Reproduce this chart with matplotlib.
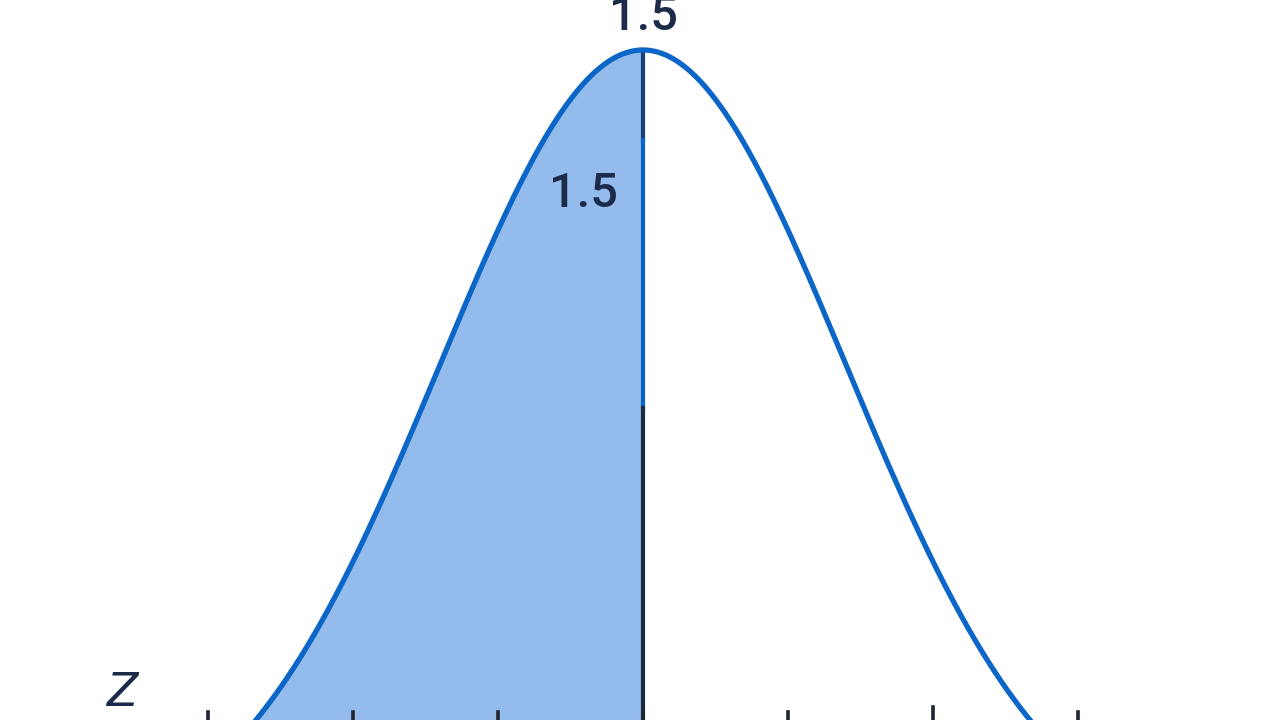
import matplotlib.pyplot as plt
import numpy as np

# bell curve (normal density), x in tick units
mu = 0.0
sigma = 1.4
z_ticks = [-3, -2, -1, 0, 1, 2, 3]
tall_tick = 2
peak_label = '1.5'
inner_label = '1.5'
axis_label = 'Z'

x = np.linspace(-4.6, 4.6, 800)
pdf = np.exp(-0.5 * ((x - mu) / sigma) ** 2) / (sigma * np.sqrt(2 * np.pi))
peak = pdf.max()

# vertical layout in pixels: peak at 50 px, zero line below the frame
W, H = 1280, 720
peak_px, base_px = 50, 850
ppu = (base_px - peak_px) / peak
def py(p):
    # pixel row -> data y
    return (base_px - p) / ppu

fig = plt.figure(figsize=(12.8, 7.2), dpi=100)
ax = fig.add_axes([0, 0, 1, 1])
ax.set_xlim(-4.434, 4.393)
ax.set_ylim(py(H), py(0))
ax.axis('off')

left = x <= mu
ax.fill_between(x[left], 0, pdf[left], color='#93bcec', lw=0, zorder=1)
ax.plot(x, pdf, color='#0b66c8', lw=3.8, zorder=3)

# centre line, in three shades like the original
ax.plot([mu, mu], [py(140), peak], color='#173f78', lw=3, zorder=2)
ax.plot([mu, mu], [py(408), py(140)], color='#0b63c4', lw=3, zorder=2)
ax.plot([mu, mu], [py(H), py(408)], color='#1e2b3c', lw=3, zorder=2)

# tick marks along the bottom edge
for t in z_ticks:
    top = 707 if t == tall_tick else 712
    ax.plot([t, t], [py(H), py(top)], color='#1e2530', lw=2.6, zorder=4)

tr = ax.transAxes
ax.text(643 / W, 1 - 30 / H, peak_label, transform=tr, ha='center',
        va='baseline', fontsize=35, family='Roboto', weight='medium',
        color='#1c2b4a')
ax.text(583 / W, 1 - 207 / H, inner_label, transform=tr, ha='center',
        va='baseline', fontsize=35, family='Roboto', weight='medium',
        color='#1c2b4a')
ax.text(122 / W, 1 - 706 / H, axis_label, transform=tr, ha='center',
        va='baseline', fontsize=33, family='DejaVu Sans', style='italic',
        color='#1c2b4a')

fig.savefig('out.png', dpi=100)
